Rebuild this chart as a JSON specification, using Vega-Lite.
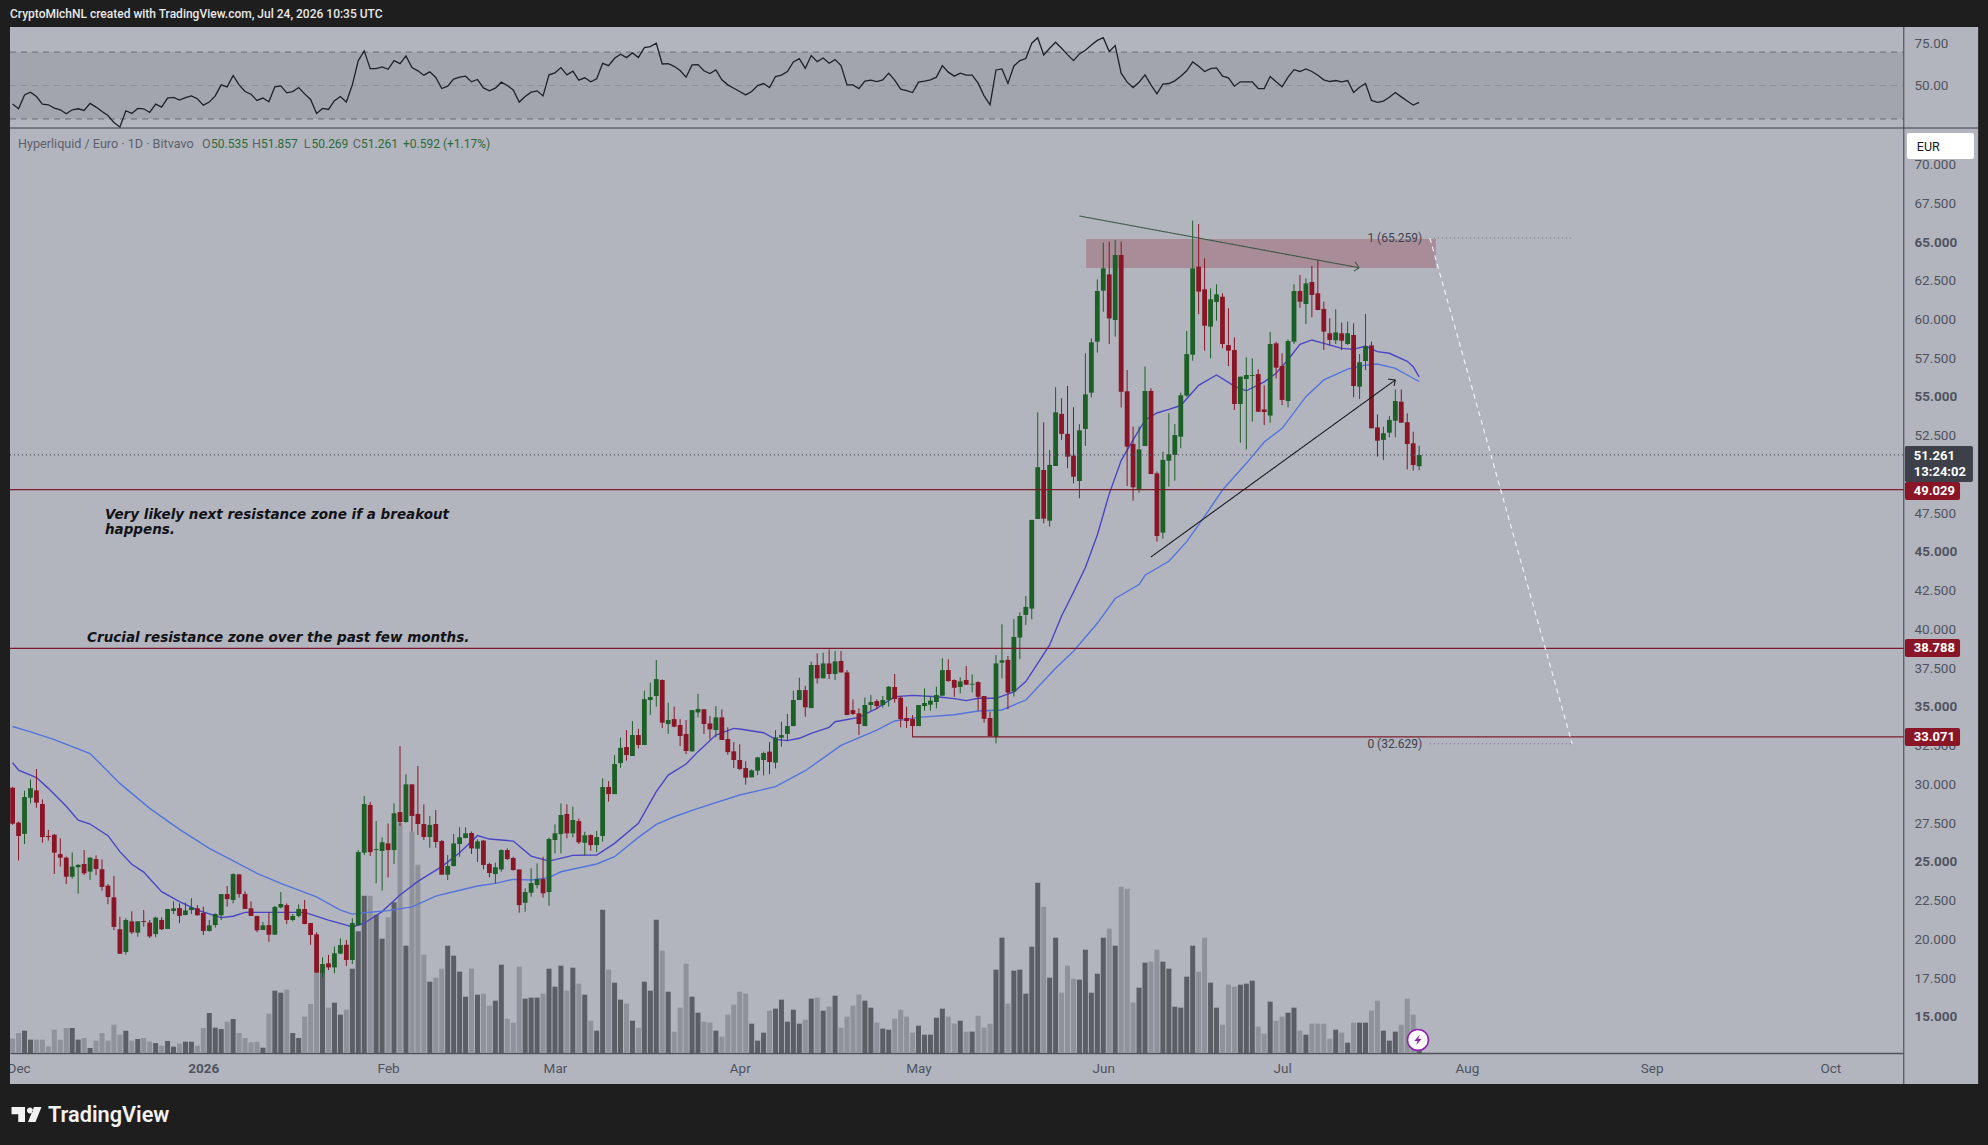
{
"$schema":"https://vega.github.io/schema/vega-lite/v6.json",
"width":1988,"height":1145,"padding":0,
"autosize":{"type":"none"},
"background":"#1e1e1e",
"view":{"fill":"#b2b5be","stroke":null},
"config":{"font":"Roboto","axis":{"labelFont":"Roboto","labelColor":"#50535e","labelFontSize":13.5,"grid":false,"ticks":false,"title":null},"text":{"font":"Roboto"}},
"resolve":{"scale":{"y":"independent","color":"independent"},"axis":{"y":"independent"}},
"encoding":{"x":{"field":"d","type":"temporal","scale":{"type":"utc","domain":["2025-11-29T13:30:00Z","2026-10-13T04:20:00Z"],"range":[10,1903],"nice":false,"padding":0},"axis":{"orient":"bottom","offset":-92,"values":["2025-12-01","2026-01-01","2026-02-01","2026-03-01","2026-04-01","2026-05-01","2026-06-01","2026-07-01","2026-08-01","2026-09-01","2026-10-01"],"labelExpr":"utcmonth(datum.value)==0?'2026':utcFormat(datum.value,'%b')","labelFontWeight":{"condition":{"test":"utcmonth(datum.value)==0","value":"bold"},"value":"normal"},"labelPadding":8,"labelFlush":false,"labelOverlap":false,"domainColor":"#50535e","domainWidth":1.5,"title":null}}},
"datasets":{
"candles":[
{"d":"2025-11-30","o":29.79,"h":29.85,"l":27.4,"c":27.47,"v":43,"r":38.9},
{"d":"2025-12-01","o":27.54,"h":27.6,"l":25.09,"c":26.68,"v":60,"r":36.1},
{"d":"2025-12-02","o":26.81,"h":29.6,"l":26.16,"c":29.19,"v":67,"r":44.4},
{"d":"2025-12-03","o":29.15,"h":30.33,"l":28.78,"c":29.75,"v":40,"r":46.0},
{"d":"2025-12-04","o":29.62,"h":31.0,"l":28.5,"c":28.83,"v":40,"r":43.4},
{"d":"2025-12-05","o":28.74,"h":29.04,"l":26.25,"c":26.61,"v":40,"r":38.9},
{"d":"2025-12-06","o":26.68,"h":27.07,"l":26.38,"c":26.61,"v":20,"r":38.5},
{"d":"2025-12-07","o":26.76,"h":26.8,"l":24.23,"c":25.6,"v":70,"r":36.5},
{"d":"2025-12-08","o":25.51,"h":26.53,"l":24.7,"c":25.28,"v":40,"r":35.5},
{"d":"2025-12-09","o":25.28,"h":25.35,"l":23.58,"c":24.05,"v":75,"r":33.1},
{"d":"2025-12-10","o":24.05,"h":25.62,"l":23.92,"c":24.7,"v":75,"r":35.5},
{"d":"2025-12-11","o":24.66,"h":24.87,"l":22.96,"c":24.81,"v":40,"r":36.1},
{"d":"2025-12-12","o":24.87,"h":25.77,"l":24.16,"c":24.27,"v":45,"r":35.1},
{"d":"2025-12-13","o":24.38,"h":25.3,"l":23.84,"c":25.28,"v":15,"r":39.3},
{"d":"2025-12-14","o":25.19,"h":25.43,"l":24.16,"c":24.55,"v":37,"r":37.1},
{"d":"2025-12-15","o":24.53,"h":25.17,"l":23.15,"c":23.39,"v":60,"r":34.5},
{"d":"2025-12-16","o":23.47,"h":23.58,"l":22.27,"c":22.74,"v":37,"r":32.1},
{"d":"2025-12-17","o":22.72,"h":24.1,"l":20.61,"c":20.81,"v":85,"r":27.9},
{"d":"2025-12-18","o":20.66,"h":21.47,"l":19.08,"c":19.08,"v":55,"r":25.2},
{"d":"2025-12-19","o":19.19,"h":21.37,"l":19.02,"c":21.26,"v":67,"r":34.9},
{"d":"2025-12-20","o":21.17,"h":21.82,"l":20.35,"c":20.46,"v":37,"r":33.3},
{"d":"2025-12-21","o":20.44,"h":21.17,"l":20.18,"c":21.17,"v":42,"r":36.3},
{"d":"2025-12-22","o":21.19,"h":21.9,"l":20.83,"c":21.13,"v":45,"r":36.1},
{"d":"2025-12-23","o":21.09,"h":21.26,"l":20.1,"c":20.2,"v":34,"r":33.9},
{"d":"2025-12-24","o":20.35,"h":21.47,"l":20.14,"c":21.41,"v":30,"r":38.9},
{"d":"2025-12-25","o":21.26,"h":21.43,"l":20.61,"c":20.66,"v":22,"r":37.1},
{"d":"2025-12-26","o":20.68,"h":21.97,"l":20.68,"c":21.97,"v":36,"r":42.5},
{"d":"2025-12-27","o":21.84,"h":22.46,"l":21.64,"c":22.01,"v":19,"r":42.9},
{"d":"2025-12-28","o":22.03,"h":22.33,"l":21.06,"c":21.52,"v":28,"r":41.3},
{"d":"2025-12-29","o":21.58,"h":22.38,"l":21.56,"c":21.88,"v":34,"r":42.7},
{"d":"2025-12-30","o":21.9,"h":22.66,"l":21.64,"c":22.07,"v":34,"r":43.8},
{"d":"2025-12-31","o":22.01,"h":22.22,"l":21.54,"c":21.56,"v":22,"r":42.1},
{"d":"2026-01-01","o":21.71,"h":22.12,"l":20.29,"c":20.55,"v":75,"r":38.3},
{"d":"2026-01-02","o":20.55,"h":21.26,"l":20.5,"c":20.91,"v":120,"r":40.1},
{"d":"2026-01-03","o":20.93,"h":21.69,"l":20.76,"c":21.64,"v":76,"r":43.8},
{"d":"2026-01-04","o":21.56,"h":22.93,"l":21.26,"c":22.93,"v":72,"r":50.4},
{"d":"2026-01-05","o":22.93,"h":23.45,"l":22.12,"c":22.61,"v":94,"r":49.2},
{"d":"2026-01-06","o":22.55,"h":24.27,"l":22.33,"c":24.22,"v":102,"r":56.0},
{"d":"2026-01-07","o":24.2,"h":24.22,"l":22.7,"c":22.93,"v":60,"r":50.4},
{"d":"2026-01-08","o":22.93,"h":23.11,"l":21.97,"c":21.97,"v":45,"r":46.4},
{"d":"2026-01-09","o":22.01,"h":22.46,"l":21.52,"c":21.52,"v":32,"r":44.8},
{"d":"2026-01-10","o":21.52,"h":21.52,"l":20.48,"c":20.59,"v":34,"r":41.1},
{"d":"2026-01-11","o":20.61,"h":21.13,"l":20.61,"c":20.91,"v":16,"r":42.5},
{"d":"2026-01-12","o":20.93,"h":21.73,"l":19.86,"c":20.31,"v":118,"r":40.3},
{"d":"2026-01-13","o":20.31,"h":22.16,"l":20.31,"c":22.1,"v":187,"r":49.2},
{"d":"2026-01-14","o":22.07,"h":23.06,"l":22.01,"c":22.29,"v":181,"r":49.8},
{"d":"2026-01-15","o":22.22,"h":22.33,"l":21.0,"c":21.26,"v":190,"r":45.6},
{"d":"2026-01-16","o":21.26,"h":21.64,"l":21.17,"c":21.52,"v":60,"r":46.4},
{"d":"2026-01-17","o":21.52,"h":22.27,"l":21.43,"c":21.97,"v":45,"r":48.8},
{"d":"2026-01-18","o":21.97,"h":22.55,"l":20.98,"c":21.0,"v":109,"r":45.0},
{"d":"2026-01-19","o":21.06,"h":21.06,"l":19.66,"c":20.29,"v":147,"r":41.7},
{"d":"2026-01-20","o":20.33,"h":20.46,"l":17.86,"c":17.86,"v":242,"r":33.3},
{"d":"2026-01-21","o":17.86,"h":18.85,"l":17.56,"c":18.42,"v":248,"r":36.3},
{"d":"2026-01-22","o":18.46,"h":19.0,"l":18.03,"c":18.2,"v":136,"r":35.7},
{"d":"2026-01-23","o":18.2,"h":19.54,"l":17.82,"c":19.11,"v":151,"r":40.9},
{"d":"2026-01-24","o":19.09,"h":20.07,"l":19.06,"c":19.64,"v":115,"r":43.4},
{"d":"2026-01-25","o":19.66,"h":19.97,"l":18.29,"c":18.68,"v":130,"r":40.1},
{"d":"2026-01-26","o":18.68,"h":21.37,"l":18.42,"c":21.06,"v":253,"r":50.4},
{"d":"2026-01-27","o":20.91,"h":25.77,"l":20.91,"c":25.64,"v":365,"r":64.9},
{"d":"2026-01-28","o":25.6,"h":29.26,"l":25.45,"c":28.74,"v":472,"r":70.7},
{"d":"2026-01-29","o":28.68,"h":28.87,"l":25.39,"c":25.64,"v":472,"r":60.1},
{"d":"2026-01-30","o":25.78,"h":27.64,"l":23.62,"c":25.84,"v":415,"r":60.1},
{"d":"2026-01-31","o":25.71,"h":26.59,"l":23.15,"c":26.27,"v":343,"r":61.1},
{"d":"2026-02-01","o":26.2,"h":27.49,"l":24.01,"c":25.77,"v":407,"r":59.7},
{"d":"2026-02-02","o":25.77,"h":28.78,"l":24.87,"c":28.14,"v":452,"r":64.9},
{"d":"2026-02-03","o":28.22,"h":32.48,"l":27.32,"c":27.58,"v":690,"r":63.1},
{"d":"2026-02-04","o":27.58,"h":30.66,"l":27.54,"c":30.01,"v":322,"r":67.7},
{"d":"2026-02-05","o":30.01,"h":30.01,"l":26.96,"c":27.97,"v":664,"r":60.7},
{"d":"2026-02-06","o":28.1,"h":31.19,"l":26.74,"c":27.45,"v":565,"r":58.8},
{"d":"2026-02-07","o":27.45,"h":28.72,"l":26.42,"c":26.61,"v":295,"r":56.2},
{"d":"2026-02-08","o":26.61,"h":27.97,"l":25.92,"c":27.39,"v":214,"r":58.2},
{"d":"2026-02-09","o":27.45,"h":28.35,"l":25.92,"c":26.29,"v":226,"r":54.8},
{"d":"2026-02-10","o":26.35,"h":26.42,"l":24.16,"c":24.18,"v":253,"r":48.2},
{"d":"2026-02-11","o":24.18,"h":25.45,"l":23.84,"c":24.74,"v":322,"r":49.6},
{"d":"2026-02-12","o":24.74,"h":26.81,"l":24.7,"c":26.2,"v":292,"r":53.8},
{"d":"2026-02-13","o":26.16,"h":27.24,"l":25.34,"c":26.59,"v":244,"r":55.0},
{"d":"2026-02-14","o":26.55,"h":27.24,"l":26.53,"c":26.85,"v":169,"r":55.6},
{"d":"2026-02-15","o":26.87,"h":26.96,"l":25.52,"c":25.88,"v":253,"r":52.2},
{"d":"2026-02-16","o":25.86,"h":26.46,"l":25.0,"c":26.33,"v":175,"r":53.6},
{"d":"2026-02-17","o":26.38,"h":26.42,"l":24.53,"c":24.81,"v":178,"r":48.6},
{"d":"2026-02-18","o":24.87,"h":24.96,"l":24.01,"c":24.29,"v":142,"r":46.8},
{"d":"2026-02-19","o":24.22,"h":24.96,"l":23.62,"c":24.66,"v":157,"r":48.4},
{"d":"2026-02-20","o":24.52,"h":25.81,"l":24.37,"c":25.77,"v":265,"r":52.0},
{"d":"2026-02-21","o":25.77,"h":25.88,"l":25.13,"c":25.19,"v":103,"r":50.0},
{"d":"2026-02-22","o":25.26,"h":25.34,"l":24.44,"c":24.48,"v":91,"r":47.4},
{"d":"2026-02-23","o":24.52,"h":24.52,"l":21.73,"c":22.22,"v":259,"r":40.1},
{"d":"2026-02-24","o":22.37,"h":23.3,"l":21.79,"c":23.06,"v":163,"r":43.4},
{"d":"2026-02-25","o":23.02,"h":24.59,"l":22.76,"c":23.64,"v":166,"r":46.0},
{"d":"2026-02-26","o":23.51,"h":24.91,"l":23.3,"c":23.9,"v":166,"r":46.8},
{"d":"2026-02-27","o":23.9,"h":25.34,"l":22.7,"c":22.98,"v":178,"r":43.8},
{"d":"2026-02-28","o":23.06,"h":26.57,"l":22.18,"c":26.48,"v":253,"r":56.4},
{"d":"2026-03-01","o":26.42,"h":27.43,"l":25.56,"c":26.85,"v":199,"r":57.6},
{"d":"2026-03-02","o":26.8,"h":28.78,"l":25.56,"c":28.03,"v":262,"r":60.7},
{"d":"2026-03-03","o":28.1,"h":28.72,"l":26.52,"c":26.85,"v":187,"r":56.4},
{"d":"2026-03-04","o":26.85,"h":28.57,"l":26.59,"c":27.71,"v":256,"r":58.6},
{"d":"2026-03-05","o":27.64,"h":27.81,"l":26.16,"c":26.27,"v":208,"r":53.2},
{"d":"2026-03-06","o":26.24,"h":26.95,"l":25.45,"c":26.72,"v":175,"r":54.6},
{"d":"2026-03-07","o":26.74,"h":26.78,"l":25.73,"c":26.09,"v":97,"r":52.2},
{"d":"2026-03-08","o":26.09,"h":27.0,"l":25.64,"c":26.61,"v":67,"r":54.0},
{"d":"2026-03-09","o":26.68,"h":30.4,"l":26.31,"c":29.84,"v":430,"r":63.3},
{"d":"2026-03-10","o":29.84,"h":30.22,"l":28.89,"c":29.38,"v":250,"r":61.9},
{"d":"2026-03-11","o":29.38,"h":31.9,"l":29.38,"c":31.32,"v":211,"r":66.3},
{"d":"2026-03-12","o":31.38,"h":33.02,"l":31.08,"c":32.37,"v":160,"r":68.7},
{"d":"2026-03-13","o":32.42,"h":33.51,"l":31.54,"c":31.9,"v":148,"r":66.7},
{"d":"2026-03-14","o":31.84,"h":34.09,"l":31.84,"c":33.19,"v":97,"r":69.5},
{"d":"2026-03-15","o":33.19,"h":33.6,"l":32.33,"c":32.55,"v":76,"r":66.7},
{"d":"2026-03-16","o":32.55,"h":36.05,"l":32.55,"c":35.51,"v":214,"r":72.7},
{"d":"2026-03-17","o":35.45,"h":36.57,"l":34.48,"c":35.64,"v":187,"r":73.3},
{"d":"2026-03-18","o":35.71,"h":38.03,"l":35.02,"c":36.8,"v":400,"r":75.3},
{"d":"2026-03-19","o":36.74,"h":36.78,"l":33.64,"c":33.99,"v":307,"r":62.9},
{"d":"2026-03-20","o":33.9,"h":35.28,"l":33.26,"c":34.16,"v":184,"r":63.1},
{"d":"2026-03-21","o":34.22,"h":35.02,"l":33.69,"c":33.73,"v":64,"r":61.5},
{"d":"2026-03-22","o":33.84,"h":34.22,"l":32.48,"c":33.13,"v":136,"r":59.0},
{"d":"2026-03-23","o":33.26,"h":34.16,"l":31.97,"c":32.16,"v":268,"r":55.0},
{"d":"2026-03-24","o":32.14,"h":34.8,"l":32.12,"c":34.8,"v":169,"r":62.3},
{"d":"2026-03-25","o":34.65,"h":35.84,"l":34.33,"c":34.87,"v":121,"r":62.5},
{"d":"2026-03-26","o":34.85,"h":34.85,"l":33.26,"c":33.9,"v":94,"r":58.8},
{"d":"2026-03-27","o":33.94,"h":34.42,"l":32.91,"c":33.56,"v":91,"r":57.2},
{"d":"2026-03-28","o":33.51,"h":35.06,"l":33.04,"c":34.33,"v":67,"r":59.3},
{"d":"2026-03-29","o":34.33,"h":34.85,"l":32.87,"c":32.87,"v":49,"r":53.4},
{"d":"2026-03-30","o":32.93,"h":33.69,"l":31.92,"c":32.09,"v":115,"r":50.4},
{"d":"2026-03-31","o":32.14,"h":32.74,"l":31.06,"c":31.58,"v":145,"r":48.4},
{"d":"2026-04-01","o":31.58,"h":32.59,"l":30.93,"c":31.0,"v":184,"r":46.4},
{"d":"2026-04-02","o":31.06,"h":31.5,"l":29.99,"c":30.44,"v":178,"r":44.4},
{"d":"2026-04-03","o":30.46,"h":30.98,"l":30.46,"c":30.91,"v":88,"r":46.4},
{"d":"2026-04-04","o":30.89,"h":31.79,"l":30.6,"c":31.75,"v":37,"r":50.0},
{"d":"2026-04-05","o":31.58,"h":32.12,"l":30.59,"c":32.03,"v":61,"r":51.2},
{"d":"2026-04-06","o":32.12,"h":32.74,"l":30.67,"c":31.45,"v":127,"r":48.8},
{"d":"2026-04-07","o":31.41,"h":33.51,"l":31.04,"c":33.04,"v":133,"r":55.4},
{"d":"2026-04-08","o":33.02,"h":34.05,"l":32.44,"c":33.19,"v":160,"r":56.2},
{"d":"2026-04-09","o":33.26,"h":34.55,"l":32.83,"c":33.77,"v":94,"r":58.4},
{"d":"2026-04-10","o":33.77,"h":36.05,"l":33.77,"c":35.45,"v":130,"r":64.1},
{"d":"2026-04-11","o":35.45,"h":36.89,"l":35.45,"c":36.09,"v":88,"r":66.1},
{"d":"2026-04-12","o":36.09,"h":36.37,"l":34.37,"c":34.98,"v":100,"r":60.3},
{"d":"2026-04-13","o":34.93,"h":37.92,"l":34.93,"c":37.71,"v":163,"r":67.9},
{"d":"2026-04-14","o":37.71,"h":38.46,"l":36.52,"c":36.85,"v":166,"r":64.3},
{"d":"2026-04-15","o":36.85,"h":38.5,"l":36.85,"c":37.81,"v":127,"r":66.5},
{"d":"2026-04-16","o":37.81,"h":38.72,"l":36.8,"c":37.13,"v":139,"r":63.3},
{"d":"2026-04-17","o":37.13,"h":38.61,"l":36.74,"c":37.94,"v":172,"r":65.5},
{"d":"2026-04-18","o":37.97,"h":38.61,"l":37.23,"c":37.23,"v":76,"r":61.9},
{"d":"2026-04-19","o":37.23,"h":37.38,"l":34.48,"c":34.48,"v":109,"r":50.4},
{"d":"2026-04-20","o":34.8,"h":35.49,"l":34.48,"c":34.55,"v":142,"r":50.4},
{"d":"2026-04-21","o":34.59,"h":34.91,"l":33.19,"c":33.9,"v":175,"r":48.2},
{"d":"2026-04-22","o":33.77,"h":35.62,"l":33.77,"c":35.13,"v":157,"r":52.6},
{"d":"2026-04-23","o":35.13,"h":35.77,"l":34.76,"c":35.32,"v":136,"r":53.2},
{"d":"2026-04-24","o":35.38,"h":35.49,"l":34.85,"c":35.06,"v":91,"r":52.4},
{"d":"2026-04-25","o":35.13,"h":35.71,"l":34.95,"c":35.45,"v":73,"r":53.4},
{"d":"2026-04-26","o":35.45,"h":36.35,"l":35.02,"c":36.31,"v":70,"r":57.4},
{"d":"2026-04-27","o":36.29,"h":37.13,"l":35.28,"c":35.51,"v":103,"r":53.2},
{"d":"2026-04-28","o":35.6,"h":35.71,"l":33.69,"c":34.22,"v":130,"r":47.8},
{"d":"2026-04-29","o":34.29,"h":35.02,"l":33.64,"c":34.09,"v":109,"r":47.0},
{"d":"2026-04-30","o":34.22,"h":34.48,"l":33.08,"c":33.77,"v":61,"r":45.8},
{"d":"2026-05-01","o":33.77,"h":35.13,"l":33.77,"c":35.13,"v":82,"r":52.0},
{"d":"2026-05-02","o":35.06,"h":36.2,"l":34.76,"c":35.26,"v":55,"r":52.6},
{"d":"2026-05-03","o":35.15,"h":35.66,"l":34.76,"c":35.41,"v":55,"r":53.4},
{"d":"2026-05-04","o":35.32,"h":36.31,"l":34.91,"c":35.77,"v":106,"r":55.0},
{"d":"2026-05-05","o":35.73,"h":38.14,"l":35.73,"c":37.38,"v":133,"r":61.9},
{"d":"2026-05-06","o":37.38,"h":38.07,"l":36.63,"c":36.67,"v":109,"r":58.0},
{"d":"2026-05-07","o":36.74,"h":36.78,"l":35.66,"c":36.24,"v":88,"r":55.6},
{"d":"2026-05-08","o":36.29,"h":36.91,"l":35.88,"c":36.65,"v":97,"r":57.4},
{"d":"2026-05-09","o":36.74,"h":37.64,"l":36.42,"c":36.44,"v":64,"r":56.2},
{"d":"2026-05-10","o":36.44,"h":37.1,"l":35.94,"c":36.5,"v":64,"r":56.2},
{"d":"2026-05-11","o":36.61,"h":36.65,"l":34.76,"c":35.66,"v":112,"r":51.4},
{"d":"2026-05-12","o":35.71,"h":35.71,"l":33.99,"c":34.24,"v":76,"r":43.8},
{"d":"2026-05-13","o":34.29,"h":34.7,"l":33.08,"c":33.13,"v":88,"r":38.5},
{"d":"2026-05-14","o":33.08,"h":38.35,"l":32.65,"c":37.81,"v":250,"r":59.3},
{"d":"2026-05-15","o":37.86,"h":40.34,"l":36.85,"c":38.01,"v":346,"r":59.9},
{"d":"2026-05-16","o":38.04,"h":38.29,"l":34.85,"c":35.93,"v":148,"r":51.2},
{"d":"2026-05-17","o":35.99,"h":40.68,"l":35.67,"c":39.52,"v":247,"r":61.7},
{"d":"2026-05-18","o":39.48,"h":41.11,"l":38.08,"c":40.87,"v":250,"r":64.9},
{"d":"2026-05-19","o":40.94,"h":42.16,"l":40.29,"c":41.46,"v":178,"r":66.1},
{"d":"2026-05-20","o":41.35,"h":47.07,"l":40.66,"c":47.07,"v":319,"r":75.3},
{"d":"2026-05-21","o":47.13,"h":54.01,"l":47.13,"c":50.47,"v":511,"r":78.6},
{"d":"2026-05-22","o":50.29,"h":53.37,"l":46.85,"c":47.15,"v":439,"r":68.3},
{"d":"2026-05-23","o":47.02,"h":51.58,"l":46.64,"c":50.62,"v":226,"r":72.3},
{"d":"2026-05-24","o":50.55,"h":55.63,"l":50.55,"c":54.01,"v":346,"r":75.9},
{"d":"2026-05-25","o":53.91,"h":54.92,"l":52.23,"c":52.62,"v":181,"r":72.3},
{"d":"2026-05-26","o":52.62,"h":55.71,"l":50.4,"c":51.15,"v":262,"r":68.5},
{"d":"2026-05-27","o":51.22,"h":54.34,"l":49.43,"c":49.86,"v":223,"r":64.9},
{"d":"2026-05-28","o":49.58,"h":53.24,"l":48.47,"c":52.85,"v":220,"r":68.9},
{"d":"2026-05-29","o":52.94,"h":57.82,"l":51.84,"c":55.17,"v":310,"r":71.1},
{"d":"2026-05-30","o":55.28,"h":58.78,"l":54.98,"c":58.53,"v":181,"r":74.3},
{"d":"2026-05-31","o":58.57,"h":62.59,"l":57.86,"c":61.84,"v":238,"r":77.0},
{"d":"2026-06-01","o":61.86,"h":64.96,"l":60.5,"c":63.3,"v":346,"r":78.6},
{"d":"2026-06-02","o":62.91,"h":65.02,"l":58.42,"c":60.07,"v":373,"r":70.3},
{"d":"2026-06-03","o":59.97,"h":65.13,"l":58.89,"c":64.16,"v":322,"r":73.9},
{"d":"2026-06-04","o":64.16,"h":65.02,"l":54.33,"c":55.34,"v":499,"r":57.4},
{"d":"2026-06-05","o":55.37,"h":56.74,"l":49.26,"c":51.8,"v":493,"r":52.0},
{"d":"2026-06-06","o":51.97,"h":53.09,"l":48.31,"c":49.17,"v":151,"r":48.8},
{"d":"2026-06-07","o":49.04,"h":53.09,"l":48.83,"c":51.62,"v":196,"r":52.0},
{"d":"2026-06-08","o":51.84,"h":56.96,"l":51.84,"c":55.39,"v":271,"r":56.4},
{"d":"2026-06-09","o":55.39,"h":55.56,"l":50.03,"c":50.03,"v":274,"r":50.4},
{"d":"2026-06-10","o":50.07,"h":50.2,"l":45.67,"c":46.03,"v":310,"r":45.0},
{"d":"2026-06-11","o":46.25,"h":51.47,"l":45.86,"c":50.94,"v":274,"r":50.8},
{"d":"2026-06-12","o":50.89,"h":53.95,"l":49.22,"c":51.3,"v":253,"r":51.2},
{"d":"2026-06-13","o":51.26,"h":53.26,"l":49.6,"c":52.55,"v":139,"r":52.8},
{"d":"2026-06-14","o":52.44,"h":55.28,"l":51.69,"c":55.11,"v":136,"r":55.6},
{"d":"2026-06-15","o":55.09,"h":59.26,"l":55.02,"c":57.77,"v":229,"r":58.8},
{"d":"2026-06-16","o":57.73,"h":66.38,"l":57.34,"c":63.3,"v":322,"r":64.1},
{"d":"2026-06-17","o":63.41,"h":66.16,"l":60.35,"c":61.8,"v":244,"r":61.5},
{"d":"2026-06-18","o":61.95,"h":63.95,"l":57.99,"c":59.6,"v":346,"r":58.4},
{"d":"2026-06-19","o":59.54,"h":62.01,"l":57.5,"c":61.3,"v":211,"r":60.1},
{"d":"2026-06-20","o":61.13,"h":62.27,"l":59.92,"c":61.62,"v":136,"r":60.5},
{"d":"2026-06-21","o":61.47,"h":61.69,"l":58.14,"c":58.42,"v":85,"r":55.6},
{"d":"2026-06-22","o":58.35,"h":60.72,"l":57.0,"c":57.99,"v":205,"r":54.6},
{"d":"2026-06-23","o":58.03,"h":58.85,"l":54.16,"c":54.55,"v":199,"r":49.6},
{"d":"2026-06-24","o":54.55,"h":56.31,"l":52.05,"c":56.31,"v":205,"r":52.2},
{"d":"2026-06-25","o":56.16,"h":57.56,"l":51.62,"c":56.42,"v":208,"r":52.2},
{"d":"2026-06-26","o":56.36,"h":57.5,"l":53.41,"c":56.42,"v":217,"r":52.2},
{"d":"2026-06-27","o":56.48,"h":56.79,"l":54.03,"c":54.05,"v":79,"r":48.2},
{"d":"2026-06-28","o":54.2,"h":55.75,"l":53.19,"c":54.03,"v":58,"r":48.2},
{"d":"2026-06-29","o":53.8,"h":59.2,"l":53.34,"c":58.42,"v":154,"r":55.4},
{"d":"2026-06-30","o":58.46,"h":58.57,"l":56.2,"c":56.89,"v":97,"r":52.2},
{"d":"2026-07-01","o":57.0,"h":57.82,"l":54.48,"c":54.81,"v":109,"r":49.2},
{"d":"2026-07-02","o":54.74,"h":58.72,"l":54.33,"c":58.61,"v":121,"r":55.0},
{"d":"2026-07-03","o":58.57,"h":62.27,"l":58.42,"c":61.84,"v":136,"r":59.5},
{"d":"2026-07-04","o":61.84,"h":62.87,"l":60.76,"c":61.15,"v":67,"r":58.4},
{"d":"2026-07-05","o":61.0,"h":62.66,"l":59.71,"c":62.33,"v":55,"r":59.9},
{"d":"2026-07-06","o":62.42,"h":63.45,"l":60.14,"c":61.58,"v":88,"r":58.4},
{"d":"2026-07-07","o":61.69,"h":63.84,"l":60.61,"c":60.61,"v":88,"r":56.2},
{"d":"2026-07-08","o":60.68,"h":61.15,"l":58.03,"c":59.22,"v":88,"r":53.4},
{"d":"2026-07-09","o":59.11,"h":60.08,"l":58.31,"c":58.68,"v":43,"r":52.4},
{"d":"2026-07-10","o":58.66,"h":60.66,"l":58.42,"c":59.17,"v":70,"r":53.0},
{"d":"2026-07-11","o":59.11,"h":59.8,"l":58.03,"c":58.63,"v":61,"r":52.2},
{"d":"2026-07-12","o":58.42,"h":59.86,"l":58.36,"c":59.11,"v":31,"r":53.0},
{"d":"2026-07-13","o":59.0,"h":59.75,"l":54.98,"c":55.71,"v":91,"r":45.8},
{"d":"2026-07-14","o":55.67,"h":57.77,"l":54.87,"c":57.24,"v":91,"r":49.0},
{"d":"2026-07-15","o":57.32,"h":60.36,"l":56.74,"c":58.29,"v":91,"r":51.2},
{"d":"2026-07-16","o":58.33,"h":58.57,"l":52.98,"c":52.98,"v":127,"r":41.1},
{"d":"2026-07-17","o":53.04,"h":53.88,"l":51.15,"c":52.18,"v":157,"r":39.9},
{"d":"2026-07-18","o":52.23,"h":53.09,"l":50.94,"c":52.66,"v":67,"r":40.7},
{"d":"2026-07-19","o":52.7,"h":53.77,"l":52.4,"c":53.52,"v":37,"r":43.0},
{"d":"2026-07-20","o":53.47,"h":55.49,"l":52.4,"c":54.74,"v":64,"r":45.8},
{"d":"2026-07-21","o":54.7,"h":55.49,"l":53.34,"c":53.34,"v":85,"r":43.2},
{"d":"2026-07-22","o":53.37,"h":53.95,"l":50.33,"c":51.97,"v":163,"r":40.7},
{"d":"2026-07-23","o":52.01,"h":52.76,"l":50.25,"c":50.61,"v":115,"r":38.3},
{"d":"2026-07-24","o":50.535,"h":51.857,"l":50.269,"c":51.261,"v":40,"r":39.9}
],
"ma":[
{"d":"2025-11-30","ma":"short","y":31.4},{"d":"2025-12-01","ma":"short","y":30.93},{"d":"2025-12-04","ma":"short","y":30.45},{"d":"2025-12-06","ma":"short","y":29.75},{"d":"2025-12-09","ma":"short","y":28.6},{"d":"2025-12-11","ma":"short","y":27.7},{"d":"2025-12-13","ma":"short","y":27.45},{"d":"2025-12-16","ma":"short","y":26.7},{"d":"2025-12-18","ma":"short","y":25.67},{"d":"2025-12-20","ma":"short","y":24.85},{"d":"2025-12-22","ma":"short","y":24.35},{"d":"2025-12-25","ma":"short","y":23.09},{"d":"2025-12-28","ma":"short","y":22.45},{"d":"2025-12-31","ma":"short","y":21.9},{"d":"2026-01-04","ma":"short","y":21.41},{"d":"2026-01-06","ma":"short","y":21.5},{"d":"2026-01-08","ma":"short","y":21.75},{"d":"2026-01-13","ma":"short","y":21.75},{"d":"2026-01-18","ma":"short","y":21.75},{"d":"2026-01-22","ma":"short","y":21.25},{"d":"2026-01-25","ma":"short","y":20.93},{"d":"2026-01-26","ma":"short","y":20.81},{"d":"2026-01-28","ma":"short","y":21.05},{"d":"2026-01-31","ma":"short","y":21.8},{"d":"2026-02-03","ma":"short","y":22.87},{"d":"2026-02-06","ma":"short","y":23.75},{"d":"2026-02-10","ma":"short","y":24.7},{"d":"2026-02-13","ma":"short","y":25.6},{"d":"2026-02-16","ma":"short","y":26.7},{"d":"2026-02-18","ma":"short","y":26.48},{"d":"2026-02-22","ma":"short","y":26.35},{"d":"2026-02-25","ma":"short","y":25.38},{"d":"2026-02-28","ma":"short","y":25.06},{"d":"2026-03-04","ma":"short","y":25.43},{"d":"2026-03-08","ma":"short","y":25.45},{"d":"2026-03-11","ma":"short","y":26.2},{"d":"2026-03-15","ma":"short","y":27.49},{"d":"2026-03-18","ma":"short","y":29.54},{"d":"2026-03-20","ma":"short","y":30.61},{"d":"2026-03-23","ma":"short","y":31.32},{"d":"2026-03-25","ma":"short","y":32.12},{"d":"2026-03-28","ma":"short","y":33.19},{"d":"2026-03-31","ma":"short","y":33.62},{"d":"2026-04-01","ma":"short","y":33.58},{"d":"2026-04-05","ma":"short","y":33.34},{"d":"2026-04-07","ma":"short","y":32.91},{"d":"2026-04-09","ma":"short","y":32.83},{"d":"2026-04-11","ma":"short","y":32.98},{"d":"2026-04-13","ma":"short","y":33.3},{"d":"2026-04-16","ma":"short","y":33.69},{"d":"2026-04-17","ma":"short","y":34.05},{"d":"2026-04-21","ma":"short","y":34.33},{"d":"2026-04-24","ma":"short","y":34.91},{"d":"2026-04-27","ma":"short","y":35.66},{"d":"2026-04-30","ma":"short","y":35.75},{"d":"2026-05-04","ma":"short","y":35.66},{"d":"2026-05-07","ma":"short","y":35.54},{"d":"2026-05-09","ma":"short","y":35.41},{"d":"2026-05-11","ma":"short","y":35.56},{"d":"2026-05-14","ma":"short","y":35.56},{"d":"2026-05-17","ma":"short","y":35.97},{"d":"2026-05-19","ma":"short","y":36.64},{"d":"2026-05-21","ma":"short","y":37.82},{"d":"2026-05-23","ma":"short","y":39.0},{"d":"2026-05-25","ma":"short","y":40.87},{"d":"2026-05-27","ma":"short","y":42.4},{"d":"2026-05-29","ma":"short","y":44.0},{"d":"2026-05-31","ma":"short","y":46.1},{"d":"2026-06-02","ma":"short","y":48.75},{"d":"2026-06-04","ma":"short","y":50.9},{"d":"2026-06-06","ma":"short","y":52.23},{"d":"2026-06-08","ma":"short","y":53.5},{"d":"2026-06-10","ma":"short","y":53.97},{"d":"2026-06-12","ma":"short","y":54.2},{"d":"2026-06-14","ma":"short","y":54.45},{"d":"2026-06-17","ma":"short","y":55.75},{"d":"2026-06-20","ma":"short","y":56.42},{"d":"2026-06-23","ma":"short","y":55.7},{"d":"2026-06-25","ma":"short","y":55.4},{"d":"2026-06-28","ma":"short","y":55.98},{"d":"2026-06-30","ma":"short","y":56.53},{"d":"2026-07-02","ma":"short","y":57.4},{"d":"2026-07-04","ma":"short","y":58.4},{"d":"2026-07-06","ma":"short","y":58.68},{"d":"2026-07-08","ma":"short","y":58.46},{"d":"2026-07-11","ma":"short","y":58.14},{"d":"2026-07-13","ma":"short","y":58.07},{"d":"2026-07-15","ma":"short","y":58.29},{"d":"2026-07-17","ma":"short","y":57.93},{"d":"2026-07-19","ma":"short","y":57.82},{"d":"2026-07-22","ma":"short","y":57.3},{"d":"2026-07-23","ma":"short","y":56.96},{"d":"2026-07-24","ma":"short","y":56.3},
{"d":"2025-11-30","ma":"long","y":33.74},{"d":"2025-12-03","ma":"long","y":33.4},{"d":"2025-12-07","ma":"long","y":32.9},{"d":"2025-12-13","ma":"long","y":32.0},{"d":"2025-12-18","ma":"long","y":30.07},{"d":"2025-12-23","ma":"long","y":28.46},{"d":"2025-12-28","ma":"long","y":27.1},{"d":"2026-01-02","ma":"long","y":25.88},{"d":"2026-01-10","ma":"long","y":24.27},{"d":"2026-01-14","ma":"long","y":23.62},{"d":"2026-01-20","ma":"long","y":22.75},{"d":"2026-01-24","ma":"long","y":21.9},{"d":"2026-01-26","ma":"long","y":21.64},{"d":"2026-01-28","ma":"long","y":21.73},{"d":"2026-02-01","ma":"long","y":21.86},{"d":"2026-02-05","ma":"long","y":22.1},{"d":"2026-02-09","ma":"long","y":22.8},{"d":"2026-02-12","ma":"long","y":23.08},{"d":"2026-02-16","ma":"long","y":23.45},{"d":"2026-02-19","ma":"long","y":23.62},{"d":"2026-02-22","ma":"long","y":23.88},{"d":"2026-02-25","ma":"long","y":23.84},{"d":"2026-02-28","ma":"long","y":23.99},{"d":"2026-03-02","ma":"long","y":24.37},{"d":"2026-03-08","ma":"long","y":24.87},{"d":"2026-03-11","ma":"long","y":25.34},{"d":"2026-03-15","ma":"long","y":26.59},{"d":"2026-03-18","ma":"long","y":27.43},{"d":"2026-03-21","ma":"long","y":27.92},{"d":"2026-03-25","ma":"long","y":28.46},{"d":"2026-04-01","ma":"long","y":29.32},{"d":"2026-04-07","ma":"long","y":29.86},{"d":"2026-04-12","ma":"long","y":30.89},{"d":"2026-04-18","ma":"long","y":32.52},{"d":"2026-04-24","ma":"long","y":33.51},{"d":"2026-04-27","ma":"long","y":34.1},{"d":"2026-05-01","ma":"long","y":34.33},{"d":"2026-05-07","ma":"long","y":34.5},{"d":"2026-05-11","ma":"long","y":34.74},{"d":"2026-05-15","ma":"long","y":34.81},{"d":"2026-05-19","ma":"long","y":35.45},{"d":"2026-05-24","ma":"long","y":37.5},{"d":"2026-05-27","ma":"long","y":38.6},{"d":"2026-05-31","ma":"long","y":40.4},{"d":"2026-06-03","ma":"long","y":42.0},{"d":"2026-06-07","ma":"long","y":42.9},{"d":"2026-06-08","ma":"long","y":43.5},{"d":"2026-06-12","ma":"long","y":44.4},{"d":"2026-06-15","ma":"long","y":45.67},{"d":"2026-06-18","ma":"long","y":47.3},{"d":"2026-06-21","ma":"long","y":49.0},{"d":"2026-06-25","ma":"long","y":50.72},{"d":"2026-06-28","ma":"long","y":52.1},{"d":"2026-07-01","ma":"long","y":52.98},{"d":"2026-07-05","ma":"long","y":55.02},{"d":"2026-07-08","ma":"long","y":56.1},{"d":"2026-07-12","ma":"long","y":56.8},{"d":"2026-07-15","ma":"long","y":57.06},{"d":"2026-07-17","ma":"long","y":57.13},{"d":"2026-07-20","ma":"long","y":56.85},{"d":"2026-07-22","ma":"long","y":56.42},{"d":"2026-07-24","ma":"long","y":56.0}
],
"segments":[
{"name":"level","d":"2025-11-29T13:30:00Z","d2":"2026-10-13T07:30:00Z","y":49.029,"y2":49.029},
{"name":"level","d":"2025-11-29T13:30:00Z","d2":"2026-10-13T07:30:00Z","y":38.788,"y2":38.788},
{"name":"level","d":"2026-04-29T22:00:00Z","d2":"2026-10-13T07:30:00Z","y":33.071,"y2":33.071},
{"name":"last","d":"2025-11-29T13:30:00Z","d2":"2026-10-13T07:30:00Z","y":51.261,"y2":51.261},
{"name":"fib","d":"2026-07-25T19:00:00Z","d2":"2026-08-18T16:00:00Z","y":65.259,"y2":65.259},
{"name":"fib","d":"2026-07-25T19:00:00Z","d2":"2026-08-18T16:00:00Z","y":32.629,"y2":32.629},
{"name":"projection","d":"2026-07-25T19:00:00Z","d2":"2026-08-18T16:00:00Z","y":65.259,"y2":32.629},
{"name":"falling","d":"2026-05-27T23:00:00Z","d2":"2026-07-13T22:00:00Z","y":66.68,"y2":63.34},
{"name":"falling","d":"2026-07-13T06:00:00Z","d2":"2026-07-13T22:00:00Z","y":63.71,"y2":63.34},
{"name":"falling","d":"2026-07-13T02:00:00Z","d2":"2026-07-13T22:00:00Z","y":63.13,"y2":63.34},
{"name":"rising","d":"2026-06-09T00:00:00Z","d2":"2026-07-20T00:00:00Z","y":44.68,"y2":56.1},
{"name":"rising","d":"2026-07-18T19:00:00Z","d2":"2026-07-20T00:00:00Z","y":56.16,"y2":56.1},
{"name":"rising","d":"2026-07-19T19:00:00Z","d2":"2026-07-20T00:00:00Z","y":55.71,"y2":56.1},
{"name":"pane","d":"2025-11-29T13:30:00Z","d2":"2026-10-25T19:00:00Z","y":72.355,"y2":72.355},
{"name":"pane","d":"2026-10-13T07:30:00Z","d2":"2026-10-13T07:30:00Z","y":10.68,"y2":78.87}
],
"frame":[
{"d":"2025-11-27T21:00:00Z","d2":"2026-10-27T11:00:00Z","y":78.87,"y2":80.61},
{"d":"2025-11-27T21:00:00Z","d2":"2026-10-27T11:00:00Z","y":6.74,"y2":10.68},
{"d":"2025-11-27T21:00:00Z","d2":"2025-11-29T13:30:00Z","y":6.74,"y2":80.61},
{"d":"2026-10-25T19:00:00Z","d2":"2026-10-27T11:00:00Z","y":6.74,"y2":80.61}
],
"tags":[
{"kind":"last","d":"2026-10-13T12:00:00Z","d2":"2026-10-24T22:00:00Z","y":51.84,"y2":49.52},
{"kind":"level","d":"2026-10-13T12:00:00Z","d2":"2026-10-22T18:00:00Z","y":49.52,"y2":48.35},
{"kind":"level","d":"2026-10-13T12:00:00Z","d2":"2026-10-22T18:00:00Z","y":39.39,"y2":38.23},
{"kind":"level","d":"2026-10-13T12:00:00Z","d2":"2026-10-22T18:00:00Z","y":33.65,"y2":32.48},
{"kind":"currency","d":"2026-10-13T20:00:00Z","d2":"2026-10-25T02:00:00Z","y":72.03,"y2":70.35}
],
"tagText":[
{"d":"2026-10-15T00:00:00Z","y":51.19,"t":"51.261"},
{"d":"2026-10-15T00:00:00Z","y":50.16,"t":"13:24:02"},
{"d":"2026-10-15T00:00:00Z","y":48.94,"t":"49.029"},
{"d":"2026-10-15T00:00:00Z","y":38.79,"t":"38.788"},
{"d":"2026-10-15T00:00:00Z","y":33.07,"t":"33.071"}
],
"notes":[
{"d":"2025-12-15T12:00:00Z","y":47.39,"t":"Very likely next resistance zone if a breakout"},
{"d":"2025-12-15T12:00:00Z","y":46.42,"t":"happens."},
{"d":"2025-12-12T12:00:00Z","y":39.45,"t":"Crucial resistance zone over the past few months."}
],
"legendGrey":[
{"d":"2025-11-30T22:00:00Z","y":71.32,"t":"Hyperliquid / Euro · 1D · Bitvavo"},
{"d":"2025-12-31T19:00:00Z","y":71.32,"t":"O"},
{"d":"2026-01-09T04:00:00Z","y":71.32,"t":"H"},
{"d":"2026-01-17T20:00:00Z","y":71.32,"t":"L"},
{"d":"2026-01-26T01:30:00Z","y":71.32,"t":"C"}
],
"legendGreen":[
{"d":"2026-01-02T07:00:00Z","y":71.32,"t":"50.535"},
{"d":"2026-01-10T16:00:00Z","y":71.32,"t":"51.857"},
{"d":"2026-01-19T03:30:00Z","y":71.32,"t":"50.269"},
{"d":"2026-01-27T11:00:00Z","y":71.32,"t":"51.261"},
{"d":"2026-02-03T12:00:00Z","y":71.32,"t":"+0.592 (+1.17%)"}
]
},
"layer":[
{"resolve":{"scale":{"color":"independent"}},"layer":[
{"data":{"values":[{"d":"2025-11-29T13:30:00Z","d2":"2026-10-13T04:20:00Z","y":30,"y2":70}]},"mark":{"type":"rect","color":"#a2a5ad"},"encoding":{"x2":{"field":"d2"},"y":{"field":"y","type":"quantitative","scale":{"domain":[24.6,85],"range":[128,27],"nice":false,"zero":false},"axis":{"orient":"right","offset":-84,"values":[50,75],"format":".2f","domain":false,"labelPadding":10,"title":null}},"y2":{"field":"y2"}}},
{"data":{"values":[{"name":"band","d":"2025-11-29T13:30:00Z","d2":"2026-10-13T04:20:00Z","y":70},{"name":"band","d":"2025-11-29T13:30:00Z","d2":"2026-10-13T04:20:00Z","y":30},{"name":"mid","d":"2025-11-29T13:30:00Z","d2":"2026-10-13T04:20:00Z","y":50}]},"mark":{"type":"rule","strokeDash":[6,5],"strokeWidth":1},"encoding":{"x2":{"field":"d2"},"y":{"field":"y","type":"quantitative"},"color":{"field":"name","type":"nominal","scale":{"domain":["band","mid"],"range":["#6a6d76","#8d9099"]},"legend":null}}},
{"data":{"name":"candles"},"mark":{"type":"line","color":"#1f2128","strokeWidth":1.3},"encoding":{"y":{"field":"r","type":"quantitative"}}}
]},
{"data":{"name":"candles"},"mark":{"type":"bar","size":5},"encoding":{"y":{"field":"v","type":"quantitative","scale":{"domain":[0,2775],"range":[1053,128],"nice":false},"axis":null},"color":{"condition":{"test":"datum.c>=datum.o","value":"#5c5e66"},"value":"#8f929a"}}},
{"resolve":{"scale":{"color":"independent"}},"layer":[
{"data":{"values":[{"d":"2026-05-29T03:00:00Z","d2":"2026-07-26T19:00:00Z","y":65.19,"y2":63.32}]},"mark":{"type":"rect","color":"#880e1f","opacity":0.24},"encoding":{"x2":{"field":"d2"},"y":{"field":"y","type":"quantitative","scale":{"domain":[12.677,72.355],"range":[1053,128],"nice":false,"zero":false},"axis":{"orient":"right","offset":-84,"values":[15,17.5,20,22.5,25,27.5,30,32.5,35,37.5,40,42.5,45,47.5,52.5,55,57.5,60,62.5,65,67.5,70],"format":".3f","domain":false,"labelPadding":10,"labelOverlap":false,"labelFontWeight":{"condition":{"test":"datum.value%10==5","value":"bold"},"value":"normal"},"title":null}},"y2":{"field":"y2"}}},
{"data":{"name":"ma"},"mark":{"type":"line","strokeWidth":1.4},"encoding":{"y":{"field":"y","type":"quantitative"},"color":{"field":"ma","type":"nominal","scale":{"domain":["short","long"],"range":["#4a45c4","#5474dc"]},"legend":null}}},
{"data":{"name":"candles"},"mark":{"type":"rule","strokeWidth":1},"encoding":{"y":{"field":"l","type":"quantitative"},"y2":{"field":"h"},"color":{"condition":{"test":"datum.c>=datum.o","value":"#1c5f27"},"value":"#8a1526"}}},
{"data":{"name":"candles"},"mark":{"type":"bar","size":4.8},"encoding":{"y":{"field":"o","type":"quantitative"},"y2":{"field":"c"},"color":{"condition":{"test":"datum.c>=datum.o","value":"#1c5f27"},"value":"#8a1526"}}},
{"data":{"name":"segments"},"mark":{"type":"rule"},"encoding":{"x2":{"field":"d2"},"y":{"field":"y","type":"quantitative"},"y2":{"field":"y2"},"color":{"field":"name","type":"nominal","scale":{"domain":["level","last","fib","projection","falling","rising","pane"],"range":["#7f1a2b","#50535e","#6f727b","#f2f3f5","#3f5a48","#15171c","#3b3e48"]},"legend":null},"strokeDash":{"field":"name","type":"nominal","scale":{"domain":["level","last","fib","projection","falling","rising","pane"],"range":[[1,0],[1,3],[1,3],[5,4],[1,0],[1,0],[1,0]]},"legend":null},"size":{"field":"name","type":"ordinal","scale":{"domain":["level","last","fib","projection","falling","rising","pane"],"range":[1.3,1,1,1.5,1.2,1.5,1.2]},"legend":null}}},
{"data":{"values":[{"d":"2026-07-19T22:00:00Z","y":65.259,"t":"1 (65.259)"},{"d":"2026-07-19T22:00:00Z","y":32.63,"t":"0 (32.629)"}]},"mark":{"type":"text","fontSize":12,"color":"#3f424c"},"encoding":{"y":{"field":"y","type":"quantitative"},"text":{"field":"t"}}},
{"data":{"name":"notes"},"mark":{"type":"text","align":"left","font":"DejaVu Sans","fontSize":13.5,"fontWeight":"bold","fontStyle":"italic","color":"#111216"},"encoding":{"y":{"field":"y","type":"quantitative"},"text":{"field":"t"}}},
{"data":{"name":"legendGrey"},"mark":{"type":"text","align":"left","fontSize":12.6,"color":"#5d606b"},"encoding":{"y":{"field":"y","type":"quantitative"},"text":{"field":"t"}}},
{"data":{"name":"legendGreen"},"mark":{"type":"text","align":"left","fontSize":12,"color":"#2c6a3a"},"encoding":{"y":{"field":"y","type":"quantitative"},"text":{"field":"t"}}},
{"data":{"values":[{"d":"2026-07-23T19:00:00Z","y":13.52}]},"mark":{"type":"point","shape":"circle","filled":true,"size":440,"fill":"#ffffff","stroke":"#8e24aa","strokeWidth":1.6,"opacity":1},"encoding":{"y":{"field":"y","type":"quantitative"}}},
{"data":{"values":[{"d":"2026-07-23T19:00:00Z","y":13.52}]},"mark":{"type":"point","shape":"M0.35 -1 L-0.7 0.2 H-0.05 L-0.35 1 L0.7 -0.2 H0.05 Z","filled":true,"size":110,"color":"#8e24aa","opacity":1},"encoding":{"y":{"field":"y","type":"quantitative"}}},
{"data":{"name":"frame"},"mark":{"type":"rect","color":"#1e1e1e"},"encoding":{"x2":{"field":"d2"},"y":{"field":"y","type":"quantitative"},"y2":{"field":"y2"}}},
{"data":{"name":"tags"},"mark":{"type":"rect","cornerRadius":2},"encoding":{"x2":{"field":"d2"},"y":{"field":"y","type":"quantitative"},"y2":{"field":"y2"},"color":{"field":"kind","type":"nominal","scale":{"domain":["last","level","currency"],"range":["#3d4049","#8a1526","#ffffff"]},"legend":null}}},
{"data":{"name":"tagText"},"mark":{"type":"text","align":"left","fontSize":13,"fontWeight":"bold","color":"#ffffff"},"encoding":{"y":{"field":"y","type":"quantitative"},"text":{"field":"t"}}},
{"data":{"values":[{"d":"2026-10-15T12:00:00Z","y":71.13,"t":"EUR"}]},"mark":{"type":"text","align":"left","fontSize":12.5,"color":"#131722"},"encoding":{"y":{"field":"y","type":"quantitative"},"text":{"field":"t"}}},
{"data":{"values":[{"d":"2025-11-29T13:30:00Z","y":79.71,"t":"CryptoMichNL created with TradingView.com, Jul 24, 2026 10:35 UTC"}]},"mark":{"type":"text","align":"left","fontSize":12,"fontWeight":500,"color":"#e8e8e8"},"encoding":{"y":{"field":"y","type":"quantitative"},"text":{"field":"t"}}},
{"data":{"values":[{"d":"2025-12-02T08:00:00Z","y":8.71}]},"mark":{"type":"point","shape":"M-1 -0.5 H-0.1 V0.5 H-0.55 V-0.02 H-1 Z M0.03 -0.27 a0.2 0.2 0 1 0 0.4 0 a0.2 0.2 0 1 0 -0.4 0 Z M1 -0.5 L0.6 0.5 H0.1 L0.5 -0.5 Z","filled":true,"size":900,"color":"#f2f2f2","opacity":1},"encoding":{"y":{"field":"y","type":"quantitative"}}},
{"data":{"values":[{"d":"2025-12-05T22:30:00Z","y":8.68,"t":"TradingView"}]},"mark":{"type":"text","align":"left","fontSize":21.7,"fontWeight":600,"color":"#f2f2f2"},"encoding":{"y":{"field":"y","type":"quantitative"},"text":{"field":"t"}}}
]}
]}
